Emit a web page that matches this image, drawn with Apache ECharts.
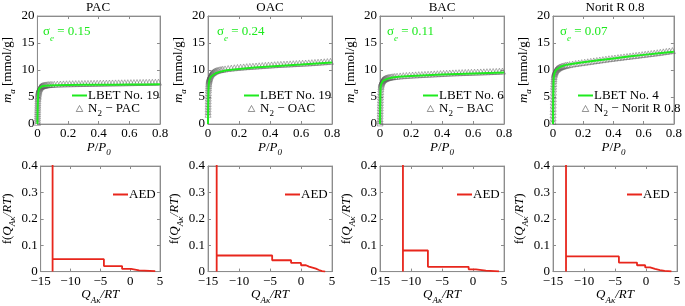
<!DOCTYPE html>
<html>
<head>
<meta charset="utf-8">
<script src="https://cdn.jsdelivr.net/npm/echarts@6/dist/echarts.min.js"></script>
<style>
  html, body { margin: 0; padding: 0; background: #fff; }
  #chart { width: 685px; height: 306px; }
</style>
</head>
<body>
<div id="chart"></div>
<script>
// ---- data ----
var materials = ['PAC', 'OAC', 'BAC', 'Norit R 0.8'];
var lbetNames = ['LBET No. 19', 'LBET No. 19', 'LBET No. 6', 'LBET No. 4'];
var sigmaE = ['0.15', '0.24', '0.11', '0.07'];

// N2 isotherm points (relative pressure, shared grid)
var n2P = [0.0003, 0.0005, 0.0007, 0.0009, 0.0011, 0.0014, 0.0017, 0.002, 0.0024, 0.0028,
  0.0033, 0.0038, 0.0045, 0.0053, 0.0062, 0.0072, 0.0085, 0.01, 0.012, 0.014, 0.017, 0.02,
  0.024, 0.028, 0.033, 0.038, 0.044, 0.05, 0.057, 0.065, 0.074, 0.084, 0.095, 0.11, 0.13,
  0.15, 0.17, 0.19, 0.21, 0.23, 0.25, 0.27, 0.29, 0.31, 0.33, 0.35, 0.37, 0.39, 0.41, 0.43,
  0.45, 0.47, 0.49, 0.51, 0.53, 0.55, 0.57, 0.59, 0.61, 0.63, 0.65, 0.67, 0.69, 0.71, 0.73,
  0.75, 0.77, 0.79];
var pacN2 = [0.3, 0.7, 1.1, 1.5, 1.9, 2.3, 2.7, 3.1, 3.5, 3.9, 4.3, 4.7, 5.0, 5.3, 5.6, 5.85,
  6.05, 6.25, 6.45, 6.6, 6.75, 6.85, 6.95, 7.02, 7.08, 7.13, 7.17, 7.21, 7.24, 7.27, 7.3, 7.32,
  7.34, 7.36, 7.39, 7.41, 7.43, 7.45, 7.46, 7.47, 7.48, 7.49, 7.5, 7.51, 7.52, 7.53, 7.54, 7.55,
  7.56, 7.57, 7.58, 7.59, 7.6, 7.61, 7.62, 7.63, 7.64, 7.65, 7.66, 7.67, 7.68, 7.69, 7.7, 7.71,
  7.72, 7.73, 7.74, 7.75];
var oacN2 = [1.8, 2.3, 2.8, 3.3, 3.8, 4.3, 4.8, 5.3, 5.8, 6.3, 6.7, 7.1, 7.45, 7.75, 8.0, 8.2,
  8.4, 8.55, 8.75, 8.9, 9.05, 9.2, 9.35, 9.45, 9.55, 9.65, 9.75, 9.83, 9.9, 9.97, 10.03, 10.09,
  10.14, 10.2, 10.28, 10.35, 10.41, 10.47, 10.52, 10.57, 10.62, 10.66, 10.7, 10.74, 10.78,
  10.82, 10.86, 10.9, 10.94, 10.98, 11.02, 11.05, 11.08, 11.11, 11.14, 11.17, 11.2, 11.23,
  11.26, 11.29, 11.32, 11.36, 11.4, 11.44, 11.48, 11.52, 11.56, 11.6];
var bacN2 = [0.2, 0.6, 1.0, 1.5, 2.0, 2.5, 3.0, 3.5, 4.0, 4.5, 5.0, 5.5, 6.0, 6.5, 6.9, 7.2,
  7.45, 7.65, 7.8, 7.92, 8.05, 8.15, 8.25, 8.33, 8.4, 8.47, 8.53, 8.58, 8.63, 8.68, 8.72, 8.76,
  8.8, 8.85, 8.9, 8.95, 8.99, 9.03, 9.07, 9.1, 9.13, 9.16, 9.19, 9.22, 9.25, 9.28, 9.31, 9.34,
  9.37, 9.4, 9.43, 9.46, 9.48, 9.5, 9.52, 9.54, 9.56, 9.58, 9.6, 9.62, 9.64, 9.66, 9.68, 9.7,
  9.72, 9.74, 9.77, 9.8];
var noritN2 = [0.5, 1.1, 1.7, 2.3, 2.9, 3.5, 4.1, 4.7, 5.3, 5.9, 6.5, 7.0, 7.5, 8.0, 8.4, 8.8,
  9.1, 9.35, 9.55, 9.7, 9.85, 10.0, 10.12, 10.23, 10.33, 10.42, 10.5, 10.58, 10.65, 10.72,
  10.79, 10.86, 10.93, 11.0, 11.1, 11.2, 11.28, 11.36, 11.44, 11.52, 11.6, 11.68, 11.76, 11.84,
  11.92, 12.0, 12.08, 12.15, 12.22, 12.29, 12.36, 12.43, 12.5, 12.57, 12.64, 12.71, 12.78,
  12.85, 12.92, 12.99, 13.06, 13.13, 13.2, 13.28, 13.36, 13.44, 13.52, 13.6];

// LBET fitted curves
var fitP = [0, 0.0005, 0.001, 0.002, 0.003, 0.005, 0.008, 0.012, 0.02, 0.03, 0.05, 0.08,
  0.12, 0.2, 0.3, 0.4, 0.5, 0.6, 0.7, 0.8];
var pacFit = [0, 0.8, 1.6, 3.0, 4.2, 5.5, 6.2, 6.6, 6.85, 7.0, 7.1, 7.15, 7.18, 7.22, 7.25,
  7.27, 7.29, 7.31, 7.33, 7.35];
var oacFit = [0, 1.5, 3.0, 5.0, 6.3, 7.4, 8.0, 8.4, 8.8, 9.1, 9.4, 9.7, 9.95, 10.2, 10.45,
  10.65, 10.85, 11.0, 11.2, 11.4];
var bacFit = [0, 1.5, 3.0, 5.0, 6.2, 7.0, 7.4, 7.7, 8.0, 8.2, 8.4, 8.6, 8.75, 8.9, 9.05,
  9.15, 9.25, 9.35, 9.45, 9.55];
var noritFit = [0, 2.0, 4.0, 6.0, 7.5, 8.6, 9.2, 9.6, 10.0, 10.3, 10.6, 10.9, 11.1, 11.45,
  11.8, 12.15, 12.5, 12.8, 13.1, 13.4];

// AED step functions: bin edges (Q/RT) and levels f
var pacEdges = [-13.0, -4.4, -1.35, 0.15, 1.5, 4.2];
var pacLevels = [0.047, 0.021, 0.01, 0.005, 0.002];
var oacEdges = [-13.6, -4.65, -1.6, 0.0, 0.8, 1.3, 1.85, 2.4, 2.9, 3.4, 3.9];
var oacLevels = [0.061, 0.043, 0.033, 0.024, 0.019, 0.015, 0.011, 0.006, 0.002, 0.0];
var bacEdges = [-11.3, -7.27, -0.7, 0.47, 2.07, 4.2];
var bacLevels = [0.08, 0.018, 0.0085, 0.004, 0.001];
var noritEdges = [-12.9, -4.37, -1.45, -0.13, 0.66, 1.45, 2.25, 3.0, 4.1];
var noritLevels = [0.0575, 0.034, 0.024, 0.016, 0.01, 0.006, 0.0025, 0.0005];

var isoTicks = { min: 0, max: 20, interval: 5 };
var pTicks = { min: 0, max: 0.8, interval: 0.2 };
var fTicks = { min: 0, max: 0.4, interval: 0.1 };
var qTicks = { min: -15, max: 5, interval: 5 };

var n2Sets = [pacN2, oacN2, bacN2, noritN2];
var fitSets = [pacFit, oacFit, bacFit, noritFit];
var edgeSets = [pacEdges, oacEdges, bacEdges, noritEdges];
var levelSets = [pacLevels, oacLevels, bacLevels, noritLevels];

// ---- layout ----
var FONT = 'Liberation Serif';
var colLeft = [36, 208, 380, 553];
var plotW = 124;
var green = '#1eea1e';
var red = '#e8261c';
var triEdge = '#5a5a5a';
var lineIcon = 'path://M0,0 L15,0 L15,2 L0,2 Z';
var triIcon = 'path://M3,0 L6,5.5 L0,5.5 Z';

function pairs(xs, ys) {
  return xs.map(function (x, i) { return [x, ys[i]]; });
}
function stepPath(edges, levels) {
  var pts = [[edges[0], 0], [edges[0], 1]];
  for (var i = 0; i < levels.length; i++) {
    pts.push([edges[i], levels[i]]);
    pts.push([edges[i + 1], levels[i]]);
  }
  return pts;
}

var rich = {
  n: { fontFamily: FONT, fontSize: 13, color: '#000', lineHeight: 14 },
  i: { fontFamily: FONT, fontSize: 13, fontStyle: 'italic', color: '#000', lineHeight: 14 },
  s: { fontFamily: FONT, fontSize: 9, fontStyle: 'italic', color: '#000', verticalAlign: 'bottom', lineHeight: 20 }
};

function axisBase(range, extra) {
  var a = {
    type: 'value',
    min: range.min, max: range.max, interval: range.interval,
    axisLine: { show: true, onZero: false, lineStyle: { color: '#8c8c8c', width: 1 } },
    axisTick: { show: true, inside: true, length: 3, lineStyle: { color: '#8c8c8c' } },
    splitLine: { show: false },
    axisLabel: { fontFamily: FONT, fontSize: 13, color: '#000', margin: 3 },
    nameLocation: 'middle',
    nameTextStyle: { rich: rich }
  };
  for (var k in extra) a[k] = extra[k];
  return a;
}
// mirror axis for the ticks on the top / right edge of the box
function mirrorAxis(range, gridIndex, position) {
  var a = axisBase(range, { gridIndex: gridIndex, position: position });
  a.axisLabel = { show: false };
  return a;
}

var grids = [], xAxes = [], yAxes = [], series = [], legends = [], graphics = [];

for (var i = 0; i < 4; i++) {
  grids.push({ left: colLeft[i], top: 16, width: plotW, height: 108, show: true,
    borderColor: '#a8a8a8', borderWidth: 1, backgroundColor: '#fff' });
}
for (var i = 0; i < 4; i++) {
  grids.push({ left: colLeft[i], top: 166, width: plotW, height: 109, show: true,
    borderColor: '#a8a8a8', borderWidth: 1, backgroundColor: '#fff' });
}

for (var i = 0; i < 4; i++) {
  xAxes.push(axisBase(pTicks, { gridIndex: i, name: '{i|P}{n|/}{i|P}{s|0}', nameGap: 13 }));
  yAxes.push(axisBase(isoTicks, { gridIndex: i, name: '{i|m}{s|a}{n| [mmol/g]}', nameGap: 18, nameRotate: 90 }));
}
for (var i = 0; i < 4; i++) {
  var xa = axisBase(qTicks, { gridIndex: i + 4, name: '{i|Q}{s|Aκ}{i|/RT}', nameGap: 13 });
  xa.axisLabel.formatter = function (v) { return v < 0 ? '\u2212' + (-v) : String(v); };
  xAxes.push(xa);
  yAxes.push(axisBase(fTicks, { gridIndex: i + 4, name: '{n|f(}{i|Q}{s|Aκ}{i|/RT}{n|)}', nameGap: 17, nameRotate: 90 }));
}
for (var i = 0; i < 4; i++) {
  xAxes.push(mirrorAxis(pTicks, i, 'top'));
  yAxes.push(mirrorAxis(isoTicks, i, 'right'));
}
for (var i = 0; i < 4; i++) {
  xAxes.push(mirrorAxis(qTicks, i + 4, 'top'));
  yAxes.push(mirrorAxis(fTicks, i + 4, 'right'));
}

for (var i = 0; i < 4; i++) {
  var n2Name = 'N2 \u2212 ' + materials[i];
  series.push({
    name: n2Name, type: 'scatter', xAxisIndex: i, yAxisIndex: i,
    data: pairs(n2P, n2Sets[i]),
    symbol: 'triangle', symbolSize: 6,
    itemStyle: { color: 'rgba(255,255,255,0)', borderColor: triEdge, borderWidth: 0.6 },
    z: 2
  });
  series.push({
    name: lbetNames[i], type: 'line', xAxisIndex: i, yAxisIndex: i,
    data: pairs(fitP, fitSets[i]),
    symbol: 'none', lineStyle: { color: green, width: 2 }, itemStyle: { color: green },
    z: 3
  });
  series.push({
    name: 'AED', type: 'line', xAxisIndex: i + 4, yAxisIndex: i + 4,
    data: stepPath(edgeSets[i], levelSets[i]),
    symbol: 'none', lineStyle: { color: red, width: 1.8 }, itemStyle: { color: red }
  });
}

var legendRich = {
  t: { fontFamily: FONT, fontSize: 13, color: '#000', lineHeight: 14 },
  s: { fontFamily: FONT, fontSize: 9, color: '#000', verticalAlign: 'bottom', lineHeight: 20 }
};
function legendFmt(name) {
  if (name.indexOf('N2') === 0) return '{t|N}{s|2}{t|' + name.slice(2) + '}';
  return '{t|' + name + '}';
}
var topLegendLeft = [72, 244, 423, 578];
var aedLegendLeft = [113, 285, 457, 627];
for (var i = 0; i < 4; i++) {
  legends.push({
    left: topLegendLeft[i], top: 89, orient: 'vertical', padding: 0, itemGap: 0,
    itemWidth: 15, itemHeight: 6, selectedMode: false,
    data: [
      { name: lbetNames[i], icon: lineIcon, itemStyle: { color: green } },
      { name: 'N2 \u2212 ' + materials[i], icon: triIcon,
        itemStyle: { color: 'rgba(255,255,255,0)', borderColor: triEdge, borderWidth: 0.8 } }
    ],
    formatter: legendFmt,
    textStyle: { rich: legendRich, padding: [0, 0, 0, -4] }
  });
  legends.push({
    left: aedLegendLeft[i], top: 188, orient: 'vertical', padding: 0,
    itemWidth: 15, itemHeight: 6, selectedMode: false,
    data: [{ name: 'AED', icon: lineIcon, itemStyle: { color: red } }], formatter: legendFmt,
    textStyle: { rich: legendRich, padding: [0, 0, 0, -4] }
  });
}

var titleX = [98, 270, 442, 615];
var sigmaX = [43, 217, 387, 560];
for (var i = 0; i < 4; i++) {
  graphics.push({
    type: 'text', x: titleX[i], y: 8,
    style: { text: materials[i], fontFamily: FONT, fontSize: 13, fill: '#000',
      align: 'center', verticalAlign: 'middle' }
  });
  graphics.push({
    type: 'text', x: sigmaX[i], y: 32,
    style: {
      text: '{g|σ}{e|e}{g| = ' + sigmaE[i] + '}', verticalAlign: 'middle',
      rich: {
        g: { fontFamily: FONT, fontSize: 13, fill: green, lineHeight: 14 },
        e: { fontFamily: FONT, fontSize: 9, fontStyle: 'italic', fill: green, verticalAlign: 'bottom', lineHeight: 22 }
      }
    }
  });
}

var chart = echarts.init(document.getElementById('chart'));
chart.setOption({
  animation: false,
  backgroundColor: '#fff',
  grid: grids,
  xAxis: xAxes,
  yAxis: yAxes,
  legend: legends,
  series: series,
  graphic: graphics
});
</script>
</body>
</html>
